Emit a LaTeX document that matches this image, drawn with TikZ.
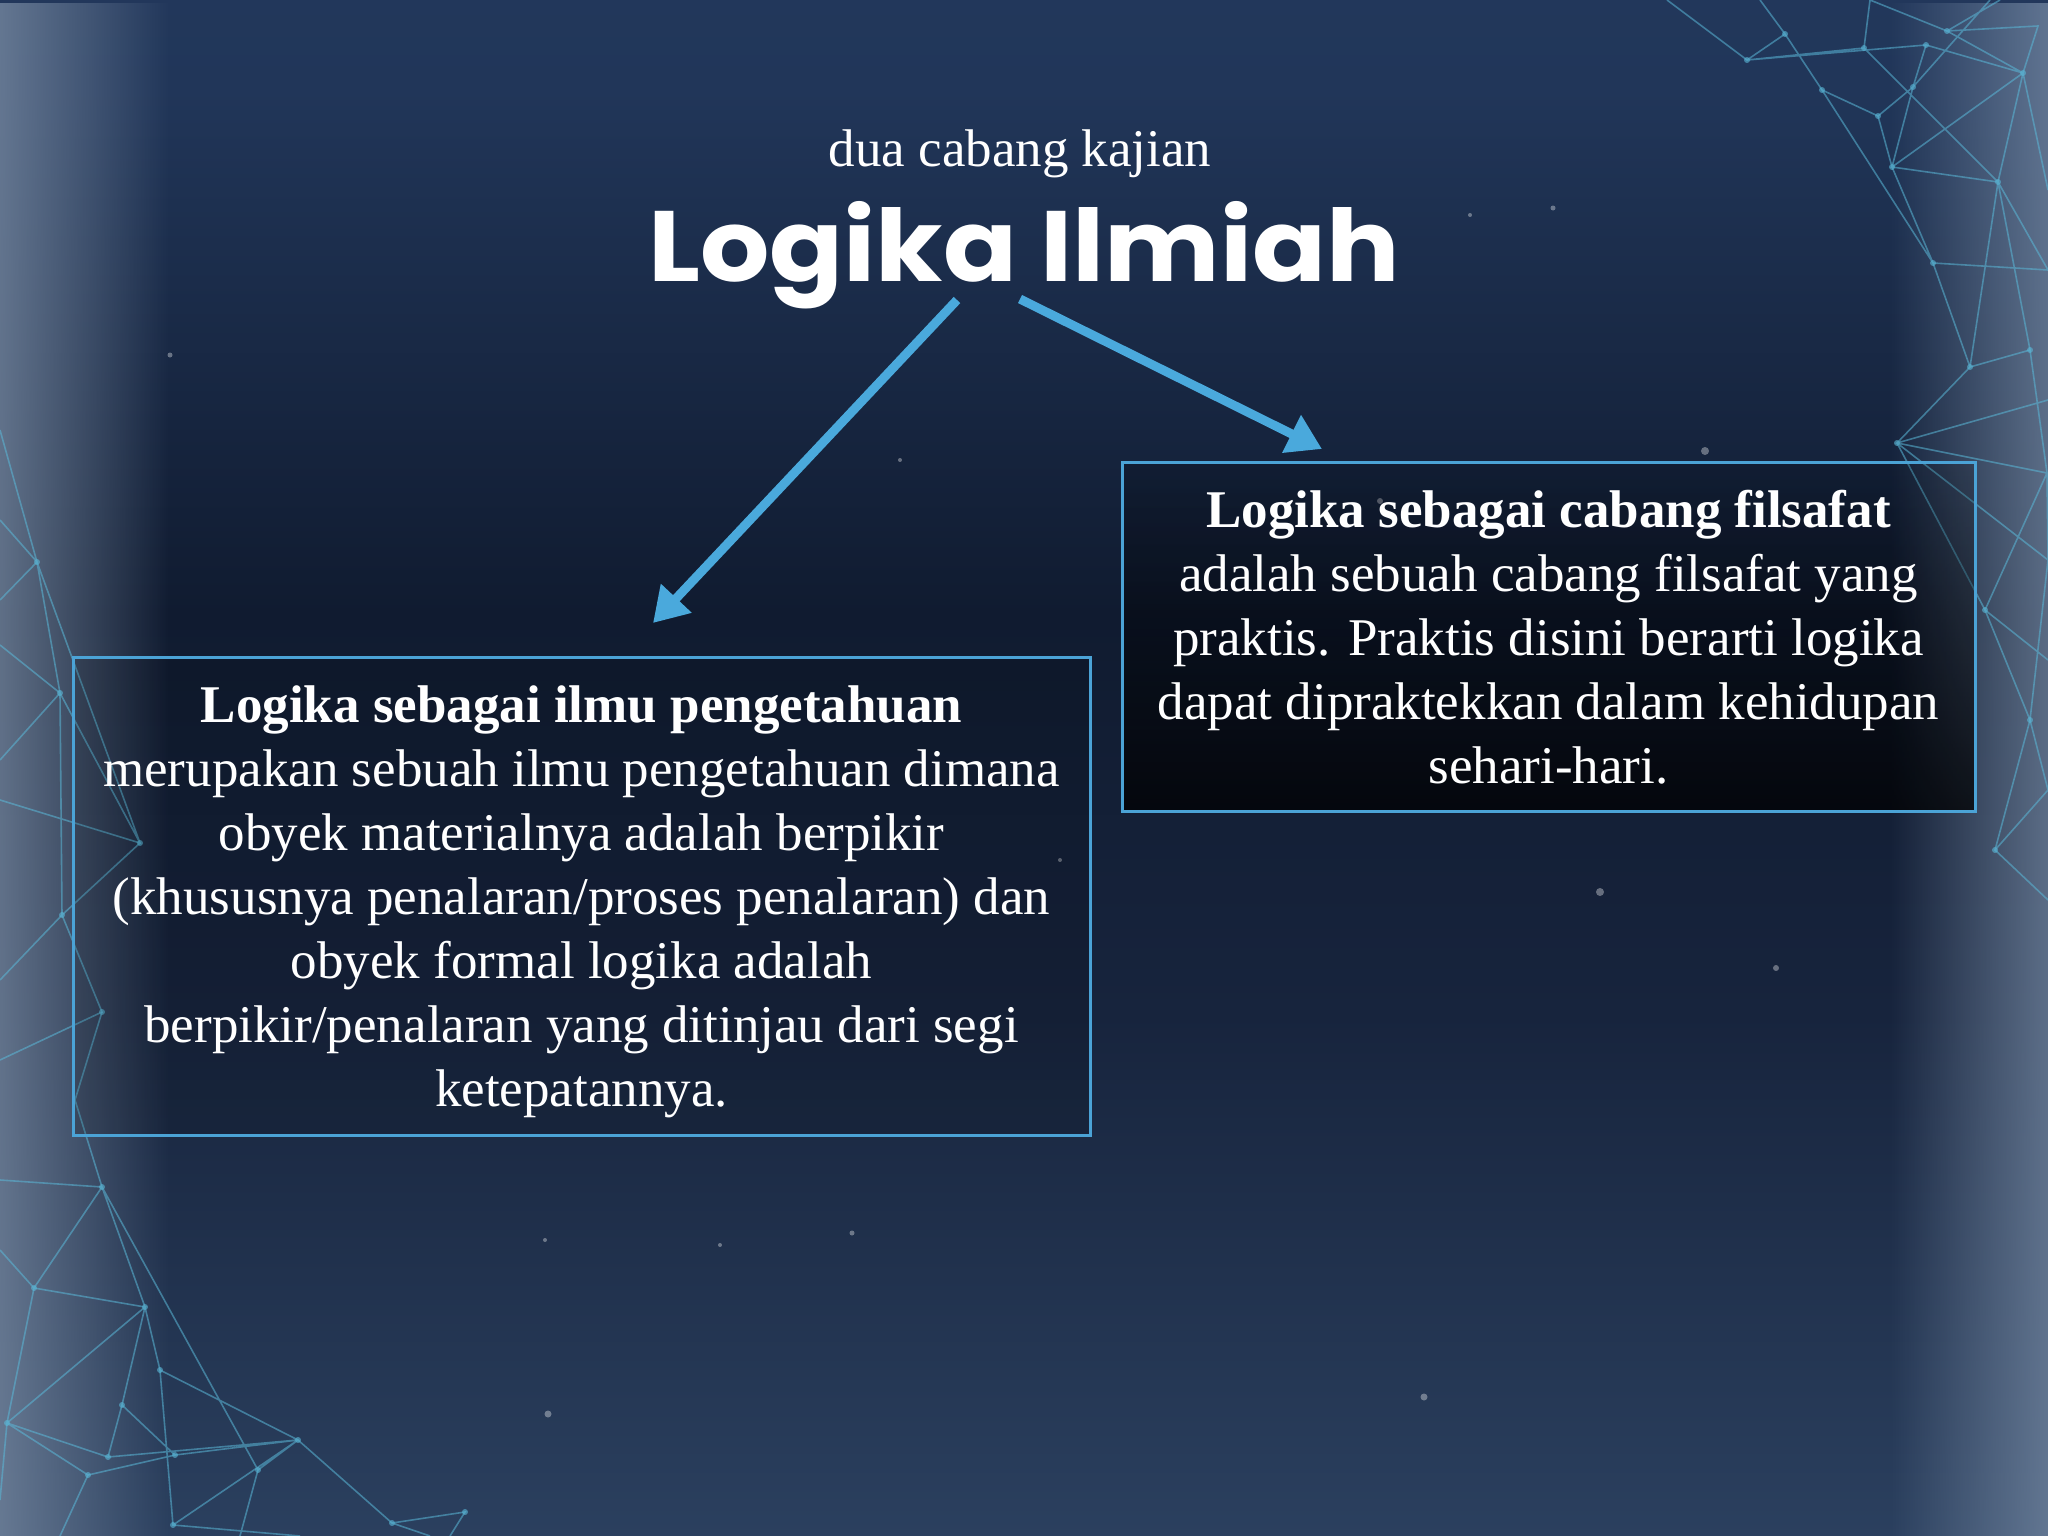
\documentclass[tikz,border=0pt]{standalone}
\usepackage{fontspec}
\setmainfont{Liberation Serif}
\newfontfamily\titlefont{Poppins}
\usetikzlibrary{arrows.meta,fadings}
\definecolor{bgtop}{HTML}{29426A}
\definecolor{bgmidA}{HTML}{17243D}
\definecolor{bgmid}{HTML}{101B30}
\definecolor{bgmidB}{HTML}{213659}
\definecolor{bglow}{HTML}{2B405F}
\definecolor{bgbot}{HTML}{2A4470}
\definecolor{edgeL}{HTML}{7A8CA4}
\definecolor{edgeR}{HTML}{7A8EA8}
\definecolor{boxline}{HTML}{4BA3D6}
\definecolor{arrowc}{HTML}{4AA9DC}
\definecolor{netc}{HTML}{5AB8D8}
\pgfdeclareverticalshading{bgsh}{100bp}{color(0bp)=(bgbot); color(25bp)=(bglow); color(42bp)=(bgmidA); color(55bp)=(bgmid); color(72bp)=(bgmidB); color(100bp)=(bgtop)}
\tikzset{
  txt/.style={text=white, font=\fontsize{53}{64}\selectfont, align=center, inner sep=0pt},
  infobox/.style={draw=boxline, line width=3pt, fill=black, fill opacity=0.12, inner sep=0pt},
  arr/.style={draw=arrowc, line width=9pt, -{Triangle[length=34pt,width=40pt]}},
  net/.style={draw=netc, line width=1.6pt, opacity=0.55},
  star/.style={fill=white, opacity=0.35}
}
\begin{document}
\begin{tikzpicture}[x=1pt,y=-1pt]
\useasboundingbox (0,0) rectangle (2048,1536);
% background
\shade[shading=bgsh] (-2,-2) rectangle (2050,1538);
\fill[edgeL, path fading=east, opacity=0.75] (0,0) rectangle (170,1536);
\fill[edgeR, path fading=west, opacity=0.7] (1890,0) rectangle (2048,1536);
% network: top right
\foreach \n/\p in {A/{1747,60},B/{1785,34},C/{1864,48},D/{1947,31},E/{2038,26},F/{1926,45},G/{2023,73},H/{1878,116},I/{1913,87},J/{1892,167},K/{1998,182},L/{1933,263},M/{1970,367},N/{2030,350},O/{1897,443},P/{2047,473},Q/{1822,90},R/{1667,0},S/{2048,190},T/{2048,270},U/{1760,0},V/{1870,0},W/{2000,0},X/{2048,400},Y/{1990,0},Z/{2048,560},R1/{1985,610},R2/{2030,720},R3/{1995,850},R4/{2048,660},R5/{2048,900},R6/{2048,790}}
  \coordinate (\n) at (\p);
\draw[net] (R)--(A)--(B)--(U) (A)--(C)--(V) (A)--(F)--(G) (B)--(Q)--(L)--(M)--(N)--(P)
  (Q)--(H)--(J)--(L) (C)--(K)--(M) (F)--(I)--(Y) (D)--(E)--(G)--(J)--(K)--(T)
  (D)--(G) (D)--(V) (D)--(W) (G)--(S) (G)--(K) (L)--(T) (M)--(O)--(P) (O)--(X) (I)--(J) (H)--(I) (K)--(N) (P)--(Z) (O)--(Z)
  (O)--(R1)--(R2)--(R3)--(R5) (R1)--(R4) (P)--(R1) (R2)--(R6) (R3)--(R6) (Z)--(R2);
\foreach \n in {A,B,C,D,F,G,H,I,J,K,L,M,N,O,Q,R1,R2,R3}
  \fill[netc, opacity=0.6] (\n) circle (3);
% network: left
\foreach \n/\p in {p/{37,562},q/{60,693},r/{140,843},s/{62,915},t/{102,1012},l1/{0,520},l2/{0,600},l3/{0,645},l4/{0,760},l5/{0,800},l6/{0,980},l7/{0,1060},l8/{0,430}}
  \coordinate (\n) at (\p);
\draw[net] (l8)--(p)--(l1) (p)--(l2) (p)--(q)--(l3) (q)--(l4) (q)--(r)--(l5) (r)--(s)--(t)--(l7) (s)--(l6) (q)--(s) (p)--(r);
\foreach \n in {p,q,r,s,t}
  \fill[netc, opacity=0.6] (\n) circle (3);
% network: bottom left
\foreach \n/\p in {a/{102,1187},b/{34,1288},c/{145,1307},d/{7,1423},e/{160,1370},f/{122,1405},g/{108,1457},h/{88,1475},i/{175,1455},j/{298,1440},k/{258,1470},ll/{173,1525},m/{392,1523},n/{465,1512},b1/{0,1180},b2/{0,1250},b3/{0,1500},b4/{60,1536},b5/{240,1536},b6/{300,1536},b7/{430,1536},b8/{450,1536},b9/{75,1100}}
  \coordinate (\n) at (\p);
\draw[net] (t)--(b9)--(a)--(b1) (a)--(b)--(b2) (a)--(c)--(e)--(j)--(m)--(n)--(b8) (b)--(c)--(d)--(g)--(j)
  (c)--(f)--(g) (f)--(i)--(j) (h)--(i) (d)--(h)--(b4) (a)--(k)--(b5) (j)--(k) (e)--(ll)--(b6) (m)--(b7) (d)--(b3) (b)--(d) (j)--(ll);
\foreach \n in {a,b,c,d,e,f,g,h,i,j,k,ll,m,n}
  \fill[netc, opacity=0.6] (\n) circle (3);
% stars
\foreach \p/\r in {{1705,451}/4,{1600,892}/4,{1776,968}/3,{548,1414}/3.5,{1424,1397}/3.5,{852,1233}/2.5,{1380,501}/3,{170,355}/2.5,{1553,208}/2.5,{1470,215}/2,{900,460}/2,{1060,860}/2,{720,1245}/2,{545,1240}/2}
  \fill[star] (\p) circle (\r);
% boxes
\node[infobox, minimum width=1017pt, minimum height=478pt] (left) at (581.5,896) {};
\node[txt] (lefttext) at (581.5,902)
  {\textbf{Logika sebagai ilmu pengetahuan}\\
   merupakan sebuah ilmu pengetahuan dimana\\
   obyek materialnya adalah berpikir\\
   (khususnya penalaran/proses penalaran) dan\\
   obyek formal logika adalah\\
   berpikir/penalaran yang ditinjau dari segi\\
   ketepatannya.};
\fill[black, path fading=north, opacity=0.7] (1122,462) rectangle (1975,811);
\node[infobox, minimum width=853pt, minimum height=349pt] (right) at (1548.5,636.5) {};
\node[txt] (righttext) at (1548.5,637)
  {\textbf{Logika sebagai cabang filsafat}\\
   adalah sebuah cabang filsafat yang\\
   praktis. Praktis disini berarti logika\\
   dapat dipraktekkan dalam kehidupan\\
   sehari-hari.};
% titles
\node[txt, anchor=base] (sub) at (1020,166) {dua cabang kajian};
\node[text=white, anchor=base, inner sep=0pt, font=\titlefont\bfseries\fontsize{100}{110}\selectfont] (title) at (1024,281) {\scalebox{1.09}[1]{Logika Ilmiah}};
% arrows
\coordinate (a1s) at (957,300);
\coordinate (a1e) at (653,623);
\coordinate (a2s) at (1020,299);
\coordinate (a2e) at (1322,449);
\draw[arr] (a1s) -- (a1e);
\draw[arr] (a2s) -- (a2e);
\end{tikzpicture}
\end{document}
